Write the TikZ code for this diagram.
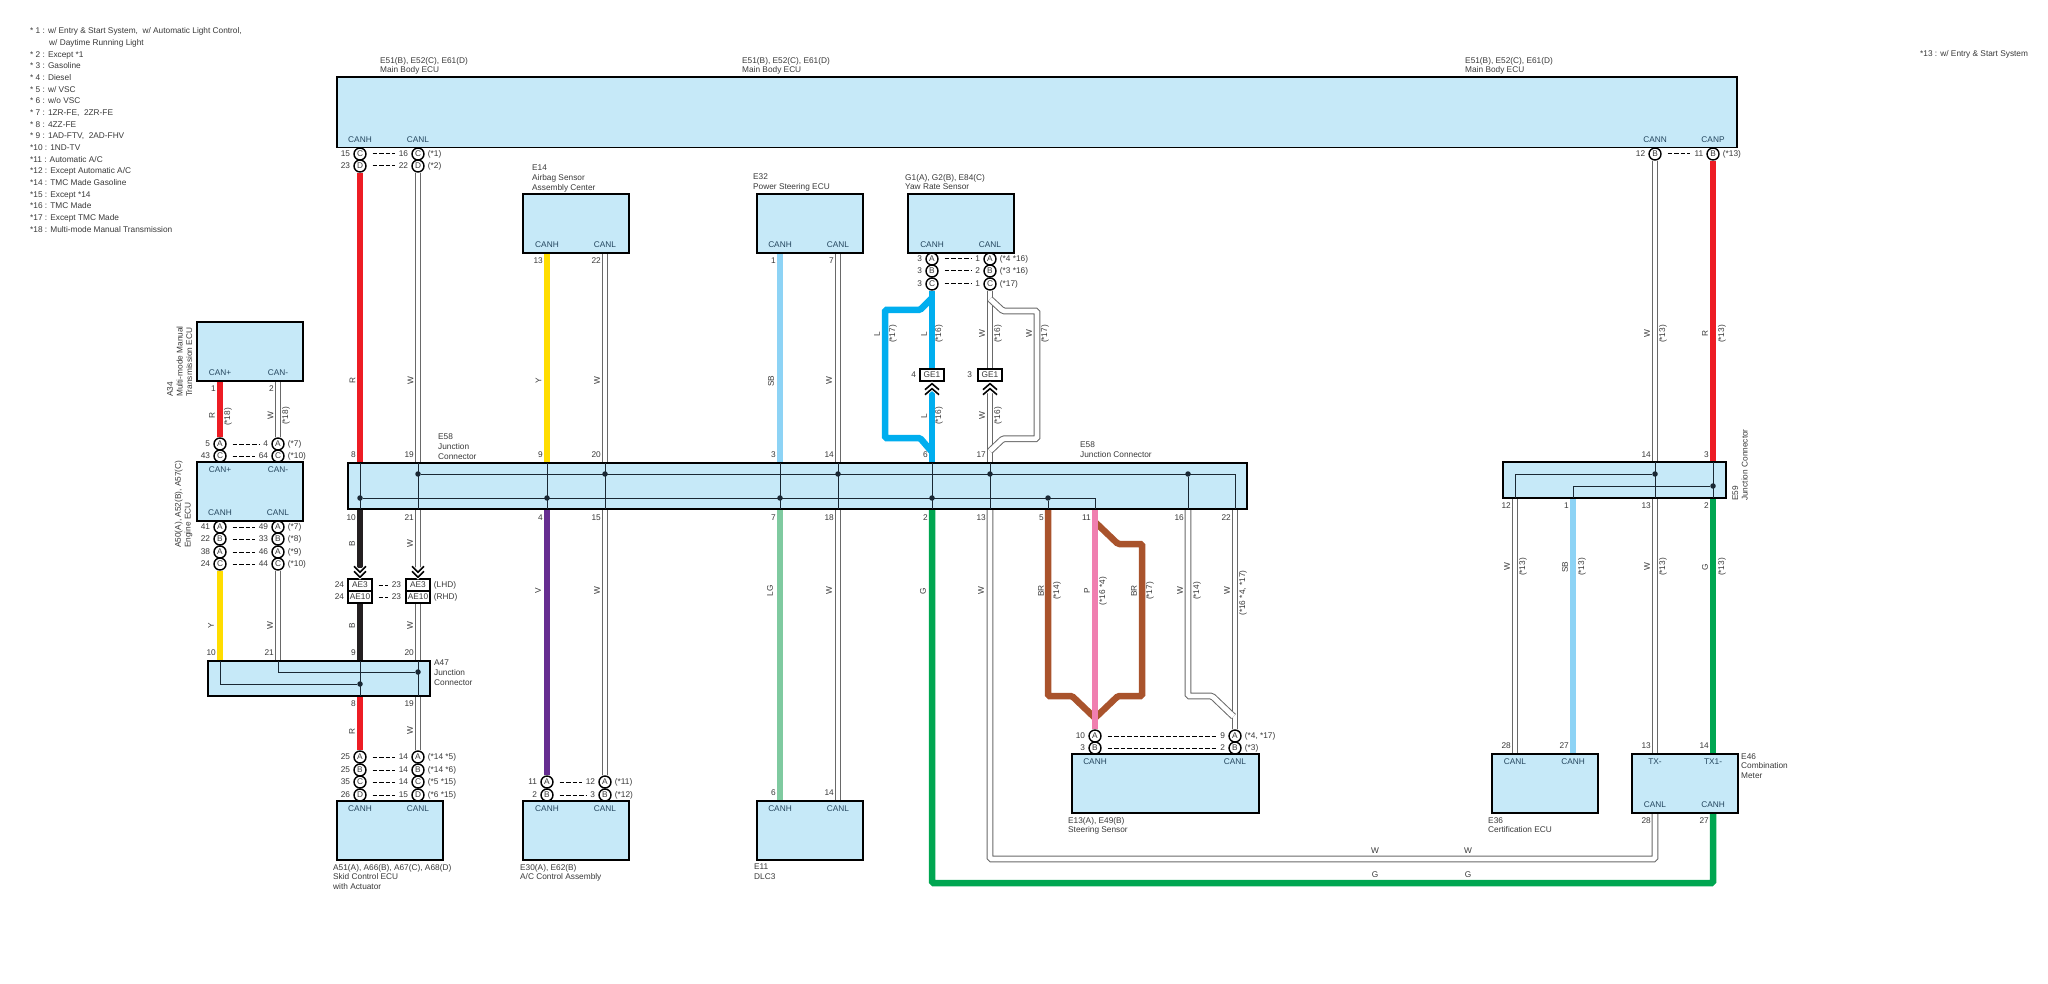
\documentclass[tikz,border=0pt]{standalone}
\usepackage{fontspec}
\setmainfont{Liberation Sans}
\usepackage{xcolor}
\usetikzlibrary{
    positioning,
    backgrounds
}
\definecolor{ecuBlue}{RGB}{198, 233, 248}
\definecolor{textGray}{RGB}{56, 56, 56}
\definecolor{sigBlue}{RGB}{36, 70, 94}
\definecolor{innerDark}{RGB}{26, 40, 52}
\definecolor{wireGray}{RGB}{105, 105, 105}
\definecolor{wireRed}{RGB}{237, 28, 36}
\definecolor{wireBlack}{RGB}{35, 31, 32}
\definecolor{wireYellow}{RGB}{255, 221, 0}
\definecolor{wirePurple}{RGB}{102, 45, 145}
\definecolor{wireSky}{RGB}{141, 211, 245}
\definecolor{wireMint}{RGB}{127, 202, 160}
\definecolor{wireGreen}{RGB}{0, 166, 81}
\definecolor{wireBlue}{RGB}{0, 174, 239}
\definecolor{wireBrown}{RGB}{169, 83, 44}
\definecolor{wirePink}{RGB}{240, 127, 176}
\tikzset{
    every node/.style={font=\fontsize{8.3}{9.7}\selectfont, inner sep=0pt, text=textGray},
    ecu/.style={draw=black, line width=1.7pt, fill=ecuBlue, anchor=north west, outer sep=0pt},
    unit/.style={ecu, minimum width=106pt, minimum height=59pt},
    sig/.style={text=sigBlue},
    txt/.style={align=left, anchor=north west},
    num/.style={anchor=east},
    wireTag/.style={rotate=90},
    connPin/.style={circle, draw=black, line width=1.4pt, fill=white, minimum size=12pt},
    pinDash/.style={draw=black, line width=1pt, dash pattern=on 4.5pt off 2pt, shorten <=6pt, shorten >=4pt},
    inlineBox/.style={draw=black, line width=1.4pt, fill=white, minimum width=24pt, minimum height=12pt},
    dot/.style={circle, fill=innerDark, minimum size=5.5pt},
    inner/.style={draw=innerDark, line width=1pt},
    wire/.style={draw=#1, line width=6.5pt, rounded corners=1.5pt},
    wireW/.style={draw=wireGray, line width=1pt, double=white, double distance=4.8pt, rounded corners=1.5pt},
    chevHalo/.style={draw=white, line width=3.4pt},
    chev/.style={draw=black, line width=1.6pt}
}
\begin{document}
\begin{tikzpicture}[x=1pt, y=-1pt]
    \useasboundingbox (0,0) rectangle (2048,984);

    \foreach \lab [count=\i] in {
        {* 1 : w/ Entry \& Start System,\ \ w/ Automatic Light Control,},
        {\hspace*{19pt}w/ Daytime Running Light},
        * 2 : Except *1, * 3 : Gasoline, * 4 : Diesel, * 5 : w/ VSC, * 6 : w/o VSC,
        {* 7 : 1ZR-FE,\ \ 2ZR-FE}, * 8 : 4ZZ-FE, {* 9 : 1AD-FTV,\ \ 2AD-FHV},
        *10 : 1ND-TV, *11 : Automatic A/C, *12 : Except Automatic A/C,
        *14 : TMC Made Gasoline, *15 : Except *14, *16 : TMC Made,
        *17 : Except TMC Made, *18 : Multi-mode Manual Transmission
    }
        \node[anchor=base west] (legend\i) at (30,{34+11.65*(\i-1)}) {\lab};
    \node[anchor=base west] (legendB) at (1920,57) {*13 : w/ Entry \& Start System};

    \node[ecu, minimum width=1400pt, minimum height=70.5pt] (e51) at (337,77) {};
    \node[unit] (e14) at (523,194) {};
    \node[unit] (e32) at (757,194) {};
    \node[unit] (yaw) at (908,194) {};
    \node[unit] (a34) at (197,322) {};
    \node[unit] (a50) at (197,462) {};
    \node[ecu, minimum width=899pt, minimum height=46pt] (e58) at (348,463) {};
    \node[ecu, minimum width=223pt, minimum height=36pt] (e59) at (1503,462) {};
    \node[ecu, minimum width=222pt, minimum height=35pt] (a47) at (208,661) {};
    \node[unit] (a51) at (337,801) {};
    \node[unit] (e30) at (523,801) {};
    \node[unit] (e11) at (757,801) {};
    \node[unit, minimum width=187pt] (e13) at (1072,754) {};
    \node[unit] (e36) at (1492,754) {};
    \node[unit] (e46) at (1632,754) {};

    \node[txt] (e51t1) at (380,57) {E51(B), E52(C), E61(D)\\Main Body ECU};
    \node[txt] (e51t2) at (742,57) {E51(B), E52(C), E61(D)\\Main Body ECU};
    \node[txt] (e51t3) at (1465,57) {E51(B), E52(C), E61(D)\\Main Body ECU};
    \node[txt] (e14t) at (532,165) {E14\\Airbag Sensor\\Assembly Center};
    \node[txt] (e32t) at (753,174) {E32\\Power Steering ECU};
    \node[txt] (yawt) at (905,174) {G1(A), G2(B), E84(C)\\Yaw Rate Sensor};
    \node[txt] (e58t1) at (438,434) {E58\\Junction\\Connector};
    \node[txt] (e58t2) at (1080,442) {E58\\Junction Connector};
    \node[txt] (a47t) at (434,660) {A47\\Junction\\Connector};
    \node[txt] (e46t) at (1741,753) {E46\\Combination\\Meter};
    \node[txt] (a51t) at (333,864) {A51(A), A66(B), A67(C), A68(D)\\Skid Control ECU\\with Actuator};
    \node[txt] (e30t) at (520,864) {E30(A), E62(B)\\A/C Control Assembly};
    \node[txt] (e11t) at (754,864) {E11\\DLC3};
    \node[txt] (e13t) at (1068,817) {E13(A), E49(B)\\Steering Sensor};
    \node[txt] (e36t) at (1488,817) {E36\\Certification ECU};
    \node[wireTag, align=left, anchor=south west] (a34t) at (192.5,397) {A34\\Multi-mode Manual\\Transmission ECU};
    \node[wireTag, align=left, anchor=south west] (a50t) at (192.5,548) {A50(A), A52(B), A57(C)\\Engine ECU};
    \node[wireTag, align=left, anchor=south west] (e59t) at (1748,501) {E59\\Junction Connector};

    \foreach \x/\y/\lab [count=\i] in {
        360/140/CANH, 418/140/CANL, 1655/140/CANN, 1713/140/CANP,
        547/245/CANH, 605/245/CANL, 780/245/CANH, 838/245/CANL, 932/245/CANH, 990/245/CANL,
        220/373/CAN+, 278/373/CAN-, 220/470/CAN+, 278/470/CAN-, 220/513/CANH, 278/513/CANL,
        360/809/CANH, 418/809/CANL, 547/809/CANH, 605/809/CANL, 780/809/CANH, 838/809/CANL,
        1095/762/CANH, 1235/762/CANL, 1515/762/CANL, 1573/762/CANH,
        1655/762/TX-, 1713/762/TX1-, 1655/805/CANL, 1713/805/CANH
    }
        \node[sig] (sig\i) at (\x,\y) {\lab};

    \foreach \p/\xa/\xb/\y/\na/\ca/\nb/\cb/\lab in {
        e51c/360/418/154/15/C/16/C/(*1),
        e51d/360/418/166/23/D/22/D/(*2),
        e51b/1655/1713/154/12/B/11/B/(*13),
        a34a/220/278/444/5/A/4/A/(*7),
        a34c/220/278/456/43/C/64/C/(*10),
        a50a/220/278/527/41/A/49/A/(*7),
        a50b/220/278/539/22/B/33/B/(*8),
        a50c/220/278/552/38/A/46/A/(*9),
        a50d/220/278/564/24/C/44/C/(*10),
        a51a/360/418/757/25/A/14/A/(*14 *5),
        a51b/360/418/770/25/B/14/B/(*14 *6),
        a51c/360/418/782/35/C/14/C/(*5 *15),
        a51d/360/418/795/26/D/15/D/(*6 *15),
        e30a/547/605/782/11/A/12/A/(*11),
        e30b/547/605/795/2/B/3/B/(*12),
        yawa/932/990/259/3/A/1/A/(*4 *16),
        yawb/932/990/271/3/B/2/B/(*3 *16),
        yawc/932/990/284/3/C/1/C/(*17),
        e13a/1095/1235/736/10/A/9/A/{(*4, *17)},
        e13b/1095/1235/748/3/B/2/B/(*3)
    }{
        \node[connPin] (\p l) at (\xa,\y) {\ca};
        \node[connPin] (\p r) at (\xb,\y) {\cb};
        \node[left=3pt of \p l] (\p n) {\na};
        \node[left=3pt of \p r] (\p m) {\nb};
        \node[right=3pt of \p r] (\p t) {\lab};
        \draw[pinDash] (\p l) -- (\p m);
    }

    \foreach \x/\y/\lab [count=\i] in {
        360/455/8, 418/455/19, 547/455/9, 605/455/20, 780/455/3, 838/455/14, 932/455/6, 990/455/17,
        360/518/10, 418/518/21, 547/518/4, 605/518/15, 780/518/7, 838/518/18, 932/518/2, 990/518/13,
        1048/518/5, 1095/518/11, 1188/518/16, 1235/518/22,
        220/389/1, 278/389/2, 547/261/13, 605/261/22, 780/261/1, 838/261/7,
        220/653/10, 278/653/21, 360/653/9, 418/653/20, 360/704/8, 418/704/19,
        780/793/6, 838/793/14, 1655/455/14, 1713/455/3,
        1515/506/12, 1573/506/1, 1655/506/13, 1713/506/2,
        1515/746/28, 1573/746/27, 1655/746/13, 1713/746/14, 1655/821/28, 1713/821/27
    }
        \node[num] (num\i) at ({\x-4},\y) {\lab};

    \foreach \x/\y/\lab [count=\i] in {
        352.5/381/R, 410.5/381/W, 538.5/381/Y, 597/381/W, 771/381/SB, 829/381/W,
        212/416/R, 228/417/(*18), 270.5/416/W, 286/416/(*18),
        352/544/B, 410/544/W, 211/626/Y, 270/626/W, 352/626/B, 410/626/W,
        352/731/R, 410/731/W, 538/591/V, 597/591/W, 770/591/LG, 829/591/W,
        923/591/G, 981/591/W,
        877/334/L, 893/334/(*17), 924/334/L, 939/334/(*16), 982/334/W, 998/334/(*16),
        1029/334/W, 1045/334/(*17), 924/416/L, 939/416/(*16), 982/416/W, 998/416/(*16),
        1041/591/BR, 1057/591/(*14), 1087/591/P, 1103/591/(*16 *4), 1134/591/BR, 1150/591/(*17),
        1180/591/W, 1197/591/(*14), 1227/591/W, 1243/593/{(*16 *4, *17)},
        1647/334/W, 1663/334/(*13), 1705/334/R, 1722/334/(*13),
        1507/567/W, 1523/567/(*13), 1565/567/SB, 1582/567/(*13),
        1647/567/W, 1663/567/(*13), 1705/567/G, 1722/567/(*13)
    }
        \node[wireTag] (tag\i) at (\x,\y) {\lab};
    \node (busW1) at (1375,851) {W};
    \node (busW2) at (1468,851) {W};
    \node (busG1) at (1375,875) {G};
    \node (busG2) at (1468,875) {G};

    \node[inlineBox] (ae3a) at (360,585) {AE3};
    \node[inlineBox] (ae10a) at (360,597) {AE10};
    \node[inlineBox] (ae3b) at (418,585) {AE3};
    \node[inlineBox] (ae10b) at (418,597) {AE10};
    \node[left=3pt of ae3a] (ae3n) {24};
    \node[left=3pt of ae10a] (ae10n) {24};
    \node[left=4pt of ae3b] (ae3m) {23};
    \node[left=4pt of ae10b] (ae10m) {23};
    \node[right=3pt of ae3b] (ae3t) {(LHD)};
    \node[right=3pt of ae10b] (ae10t) {(RHD)};
    \draw[pinDash] (ae3a) -- (ae3m);
    \draw[pinDash] (ae10a) -- (ae10m);
    \node[inlineBox] (ge1a) at (932,375) {GE1};
    \node[inlineBox] (ge1b) at (990,375) {GE1};
    \node[left=3pt of ge1a] (ge1n) {4};
    \node[left=5pt of ge1b] (ge1m) {3};

    \node[dot] (e58h1) at (360,498) {};
    \node[dot] (e58h2) at (547,498) {};
    \node[dot] (e58h3) at (780,498) {};
    \node[dot] (e58h4) at (932,498) {};
    \node[dot] (e58h5) at (1048,498) {};
    \node[dot] (e58l1) at (418,474) {};
    \node[dot] (e58l2) at (605,474) {};
    \node[dot] (e58l3) at (838,474) {};
    \node[dot] (e58l4) at (990,474) {};
    \node[dot] (e58l5) at (1188,474) {};
    \node[dot] (a47h) at (360,684) {};
    \node[dot] (a47l) at (418,672) {};
    \node[dot] (e59l) at (1655,474) {};
    \node[dot] (e59h) at (1713,486) {};
    \coordinate (e58h6) at (1095,498);
    \coordinate (e58l6) at (1235,474);
    \coordinate (a47a) at (220,684);
    \coordinate (a47b) at (278,672);
    \coordinate (e59a) at (1515,474);
    \coordinate (e59b) at (1573,486);
    \coordinate (busGreen) at (1713,883);
    \coordinate (busWhite) at (1655,859);
    \coordinate (lTop) at (932,298);
    \coordinate (lBot) at (932,452);
    \coordinate (wTop) at (990,299);
    \coordinate (wBot) at (990,451);
    \coordinate (brTop) at (1095,522);
    \coordinate (brBot) at (1095,718);
    \coordinate (wJoin) at (1233.5,716.5);

    \draw[inner] (e58h1) -- (e58h6) -- (e58h6 |- e58.south);
    \draw[inner] (e58l1) -- (e58l6) -- (e58l6 |- e58.south);
    \foreach \n in {e58h1,e58h2,e58h3,e58h4,e58l1,e58l2,e58l3,e58l4}
        \draw[inner] (e58.north -| \n) -- (e58.south -| \n);
    \draw[inner] (e58h5) -- (e58.south -| e58h5);
    \draw[inner] (e58l5) -- (e58.south -| e58l5);
    \draw[inner] (a47.north -| a47a) -- (a47a) -- (a47h);
    \draw[inner] (a47.north -| a47b) -- (a47b) -- (a47l);
    \draw[inner] (a47.north -| a47h) -- (a47.south -| a47h);
    \draw[inner] (a47.north -| a47l) -- (a47.south -| a47l);
    \draw[inner] (e59.south -| e59a) -- (e59a) -- (e59l);
    \draw[inner] (e59.south -| e59b) -- (e59b) -- (e59h);
    \draw[inner] (e59.north -| e59l) -- (e59.south -| e59l);
    \draw[inner] (e59.north -| e59h) -- (e59.south -| e59h);

    \begin{scope}[on background layer]
        \draw[wire=wireBlue] (lTop) -- ++(-12,12) -- (885,310) -- (885,438) -- (920,438) -- (lBot);
        \draw[wire=wireBrown] (e58.south -| e58h5) -- (1048,696) -- (1072,696) -- (brBot);
        \draw[wire=wireBrown] (brTop) -- (1118,544) -- (1142,544) -- (1142,696) -- (1118,696) -- (brBot);

        \draw[wire=wireRed] (a34al) -- (a34al |- a34.south);
        \draw[wireW] (a34ar) -- (a34ar |- a34.south);
        \draw[wire=wireYellow] (a50dl) -- (a50dl |- a47.north);
        \draw[wireW] (a50dr) -- (a50dr |- a47.north);
        \draw[wire=wireRed] (e51dl) -- (e51dl |- e58.north);
        \draw[wireW] (e51dr) -- (e51dr |- e58.north);
        \draw[wire=wireBlack, shorten >=10pt] (e58.south -| e58h1) -- (ae3a.north);
        \draw[wireW, shorten >=10pt] (e58.south -| e58l1) -- (ae3b.north);
        \draw[wire=wireBlack] (ae10a) -- (ae10a |- a47.north);
        \draw[wireW] (ae10b) -- (ae10b |- a47.north);
        \draw[wire=wireRed] (a47.south -| a47h) -- (a51al);
        \draw[wireW] (a47.south -| a47l) -- (a51ar);
        \draw[wire=wireYellow] (e14.south -| e58h2) -- (e58.north -| e58h2);
        \draw[wireW] (e14.south -| e58l2) -- (e58.north -| e58l2);
        \draw[wire=wirePurple] (e58.south -| e58h2) -- (e30al);
        \draw[wireW] (e58.south -| e58l2) -- (e30ar);
        \draw[wire=wireSky] (e32.south -| e58h3) -- (e58.north -| e58h3);
        \draw[wireW] (e32.south -| e58l3) -- (e58.north -| e58l3);
        \draw[wire=wireMint] (e58.south -| e58h3) -- (e11.north -| e58h3);
        \draw[wireW] (e58.south -| e58l3) -- (e11.north -| e58l3);
        \draw[wire=wireBlue] (yawcl) -- (ge1a);
        \draw[wire=wireBlue, shorten <=8pt] (ge1a.south) -- (e58.north -| e58h4);
        \draw[wireW] (yawcr) -- (ge1b);
        \draw[wireW, shorten <=8pt] (ge1b.south) -- (e58.north -| e58l4);
        \draw[wire=wireGreen] (e58.south -| e58h4) |- (busGreen) -- (e46.south -| busGreen);
        \draw[wireW] (e58.south -| e58l4) |- (busWhite) -- (e46.south -| busWhite);
        \draw[wire=wirePink] (e58.south -| e58h6) -- (e13al);
        \draw[wireW] (e58.south -| e58l6) -- (e13ar);
        \draw[wireW] (e51bl) -- (e51bl |- e59.north);
        \draw[wire=wireRed] (e51br) -- (e51br |- e59.north);
        \draw[wireW] (e59.south -| e59a) -- (e36.north -| e59a);
        \draw[wire=wireSky] (e59.south -| e59b) -- (e36.north -| e59b);
        \draw[wireW] (e59.south -| e59l) -- (e46.north -| e59l);
        \draw[wire=wireGreen] (e59.south -| e59h) -- (e46.north -| e59h);

        \draw[wireW] (wTop) -- ++(13,12) -- (1037,311) -- (1037,438.7) -- (1003,438.7) -- (wBot);
        \draw[wireW] (e58.south -| e58l5) -- (1188,696) -- (1212,696) -- (wJoin);
    \end{scope}

    \foreach \b in {ae3a,ae3b}
        \foreach \off in {-12,-7}{
            \draw[chevHalo] (\b.north) ++(-6,\off) -- ++(6,6) -- ++(6,-6);
            \draw[chev] (\b.north) ++(-6,\off) -- ++(6,6) -- ++(6,-6);
        }
    \foreach \b in {ge1a,ge1b}
        \foreach \off in {13,8}{
            \draw[chevHalo] (\b.south) ++(-7,\off) -- ++(7,-6) -- ++(7,6);
            \draw[chev] (\b.south) ++(-7,\off) -- ++(7,-6) -- ++(7,6);
        }
\end{tikzpicture}
\end{document}
